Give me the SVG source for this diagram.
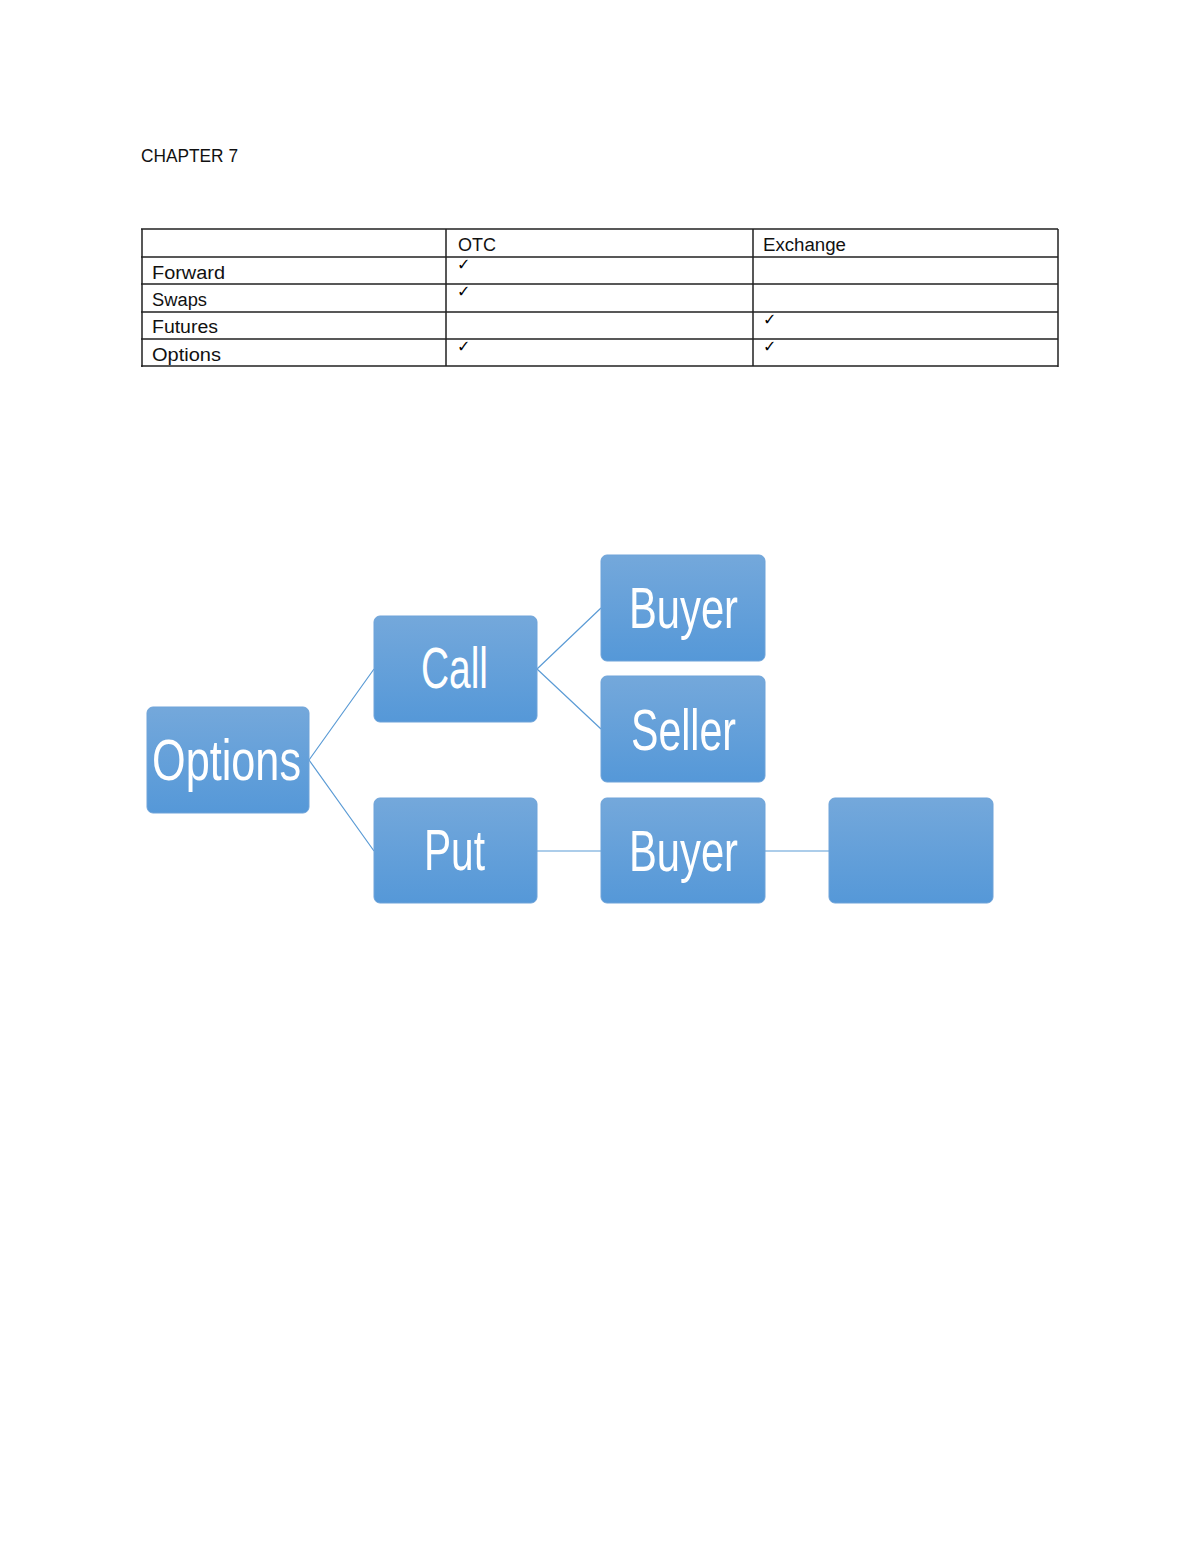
<svg xmlns="http://www.w3.org/2000/svg" width="1200" height="1553" viewBox="0 0 1200 1553">
<defs>
<linearGradient id="g" x1="0" y1="0" x2="0" y2="1">
<stop offset="0" stop-color="#74a8db"/>
<stop offset="1" stop-color="#5598d8"/>
</linearGradient>
<style>
.box{fill:url(#g);stroke:#6ea3d9;stroke-width:1}
.lbl{font-family:"Liberation Sans",Arial,sans-serif;font-size:58px;fill:#ffffff;}
.t{font-family:"Liberation Sans",Arial,sans-serif;font-size:18px;fill:#111111}
.ck{font-family:"DejaVu Sans",sans-serif;font-size:16px;font-weight:bold;fill:#000}
.tl{stroke:#222;stroke-width:1.5;fill:none}
.c{stroke:#5b9bd5;stroke-width:1.2;fill:none}
</style>
</defs>
<rect width="1200" height="1553" fill="#ffffff"/>
<text class="t" x="141" y="162" textLength="97" lengthAdjust="spacingAndGlyphs">CHAPTER 7</text>
<g id="table">
<path class="tl" d="M141 229H1058M141 257H1058M141 284H1058M141 312H1058M141 339H1058M141 366H1058M142 229V367M446 229V366M753 229V366M1058 229V367"/>
<text class="t" x="458" y="251">OTC</text>
<text class="t" x="763" y="251" textLength="83" lengthAdjust="spacingAndGlyphs">Exchange</text>
<text class="t" x="152" y="279" textLength="73" lengthAdjust="spacingAndGlyphs">Forward</text>
<text class="t" x="152" y="306" textLength="55" lengthAdjust="spacingAndGlyphs">Swaps</text>
<text class="t" x="152" y="333" textLength="66" lengthAdjust="spacingAndGlyphs">Futures</text>
<text class="t" x="152" y="361" textLength="69" lengthAdjust="spacingAndGlyphs">Options</text>
<text class="ck" x="457" y="270">✓</text>
<text class="ck" x="457" y="297">✓</text>
<text class="ck" x="763" y="325">✓</text>
<text class="ck" x="457" y="352">✓</text>
<text class="ck" x="763" y="352">✓</text>
</g>
<g id="connectors">
<path class="c" d="M309 760L374 669M309 760L374 851M537 669L601 608M537 669L601 729M537 851H601M765 851H829"/>
</g>
<g id="options"><rect class="box" x="147" y="707" width="162" height="106" rx="6"/><text class="lbl" x="152" y="780" textLength="149" lengthAdjust="spacingAndGlyphs">Options</text></g>
<g id="call"><rect class="box" x="374" y="616" width="163" height="106" rx="6"/><text class="lbl" x="421" y="688" textLength="67" lengthAdjust="spacingAndGlyphs">Call</text></g>
<g id="put"><rect class="box" x="374" y="798" width="163" height="105" rx="6"/><text class="lbl" x="424" y="870" textLength="61" lengthAdjust="spacingAndGlyphs">Put</text></g>
<g id="buyer1"><rect class="box" x="601" y="555" width="164" height="106" rx="6"/><text class="lbl" x="629" y="628" textLength="109" lengthAdjust="spacingAndGlyphs">Buyer</text></g>
<g id="seller"><rect class="box" x="601" y="676" width="164" height="106" rx="6"/><text class="lbl" x="631" y="750" textLength="105" lengthAdjust="spacingAndGlyphs">Seller</text></g>
<g id="buyer2"><rect class="box" x="601" y="798" width="164" height="105" rx="6"/><text class="lbl" x="629" y="871" textLength="109" lengthAdjust="spacingAndGlyphs">Buyer</text></g>
<g id="empty"><rect class="box" x="829" y="798" width="164" height="105" rx="6"/></g>
</svg>
